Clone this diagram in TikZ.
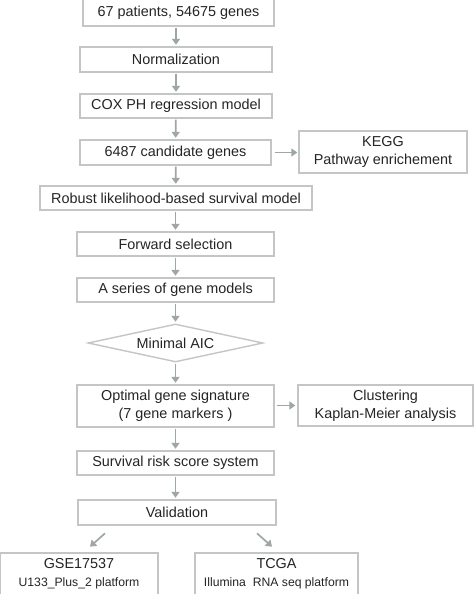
\documentclass[tikz,border=0pt]{standalone}
\usepackage{fontspec}
\setmainfont{Liberation Sans}
\usetikzlibrary{arrows.meta,shapes.geometric}
\definecolor{boxline}{HTML}{C4C6C6}
\definecolor{arrowgray}{HTML}{9EA6A6}
\definecolor{txt}{HTML}{252525}
\newcommand\subtxtfont{\fontsize{12.2}{14}\selectfont}
\begin{document}
\begin{tikzpicture}[x=1pt,y=-1pt,
  stepbox/.style={draw=boxline,line width=1.4pt,fill=white,inner sep=0pt,align=center,
    text=txt,font=\fontsize{14.4}{18}\selectfont},
  flow/.style={draw=arrowgray,line width=1.7pt,-{Triangle[length=6pt,width=8pt]}}]
\useasboundingbox (0,0) rectangle (474,594);
\fill[white] (0,0) rectangle (474,594);
\node[stepbox,minimum width=191pt,minimum height=27pt] (b1) at (178.5,12.5) {67 patients, 54675 genes};
\node[stepbox,minimum width=192pt,minimum height=25pt] (b2) at (176,59.5) {Normalization};
\node[stepbox,minimum width=192pt,minimum height=24pt] (b3) at (176,106) {COX PH regression model};
\node[stepbox,minimum width=191pt,minimum height=25pt] (b4) at (175.5,152.5) {6487 candidate genes};
\node[stepbox,minimum width=168pt,minimum height=42pt] (kegg) at (383,152) {KEGG\\Pathway enrichement};
\node[stepbox,minimum width=272pt,minimum height=24pt] (rob) at (176,198) {Robust likelihood-based survival model};
\node[stepbox,minimum width=197pt,minimum height=24pt] (fwd) at (175.5,244) {Forward selection};
\node[stepbox,minimum width=197pt,minimum height=24pt] (ser) at (175.5,290) {A series of gene models};
\node[stepbox,shape=diamond,aspect=4.6,minimum width=175pt,minimum height=38pt] (aic) at (175.5,343) {Minimal AIC};
\node[stepbox,minimum width=197pt,minimum height=42pt] (opt) at (175.5,406) {Optimal gene signature\\(7 gene markers )};
\node[stepbox,minimum width=175pt,minimum height=41pt] (clu) at (385.5,405.5) {Clustering\\Kaplan-Meier analysis};
\node[stepbox,minimum width=197pt,minimum height=24pt] (sur) at (175.5,463) {Survival risk score system};
\node[stepbox,minimum width=198pt,minimum height=25pt] (val) at (177,512.5) {Validation};
\node[stepbox,minimum width=158pt,minimum height=42pt] (gse) at (79,574) {GSE17537\\{\subtxtfont U133\_Plus\_2 platform}};
\node[stepbox,minimum width=163pt,minimum height=42pt] (tcga) at (276.5,574) {TCGA\\{\subtxtfont Illumina\ \ RNA seq platform}};
\begin{scope}[shorten <=1pt,shorten >=1.5pt]
\draw[flow] (b1.south -| b2.south) -- (b2);
\draw[flow] (b2) -- (b3);
\draw[flow] (b3) -- (b4);
\draw[flow] (b4) -- (rob);
\draw[flow] (rob.south -| fwd.north) -- (fwd);
\draw[flow] (fwd) -- (ser);
\draw[flow] (ser) -- (aic);
\draw[flow] (aic) -- (opt);
\draw[flow] (opt) -- (sur);
\draw[flow] (sur.south) -- (sur.south |- val.north);
\end{scope}
\draw[flow,shorten <=3pt,shorten >=1pt] (b4.east) -- (kegg.west |- b4.east);
\draw[flow,shorten <=2pt,shorten >=2pt] (opt.east |- clu.west) -- (clu.west);
\draw[flow,shorten <=11.5pt,shorten >=8.5pt] ([xshift=-63.4pt]val.south) -- ([xshift=4.6pt]gse.north);
\draw[flow,shorten <=11.5pt,shorten >=8.5pt] ([xshift=71.4pt]val.south) -- ([xshift=1.9pt]tcga.north);
\end{tikzpicture}
\end{document}
